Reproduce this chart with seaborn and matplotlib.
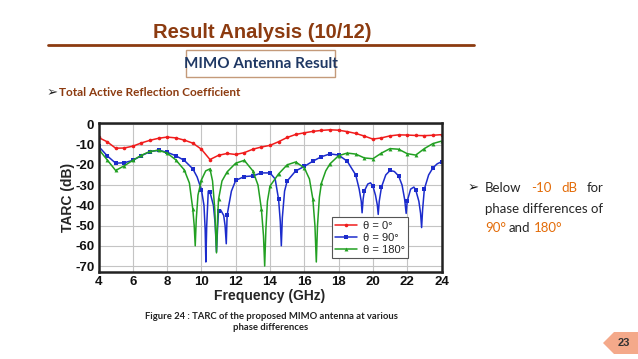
import pandas as pd
import seaborn as sns
import matplotlib.pyplot as plt
from matplotlib.patches import Rectangle, Polygon

# frequencies where the markers sit (GHz)
freq_grid = [4.0, 4.5, 5.0, 5.5, 6.0, 6.5, 7.0, 7.5, 8.0, 8.5, 9.0, 9.5, 10.0, 10.5,
             11.0, 11.5, 12.0, 12.5, 13.0, 13.5, 14.0, 14.5, 15.0, 15.5, 16.0, 16.5,
             17.0, 17.5, 18.0, 18.5, 19.0, 19.5, 20.0, 20.5, 21.0, 21.5, 22.0, 22.5,
             23.0, 23.5, 24.0]

# theta = 0 deg
tarc_0 = [-6.5, -8.6, -11.8, -11.7, -10.8, -9.2, -7.9, -6.9, -6.3, -6.7, -7.8, -9.3,
          -12.3, -17.4, -15.3, -14.4, -14.9, -14.0, -12.3, -11.2, -10.4, -8.6, -6.5,
          -5.0, -4.2, -3.5, -3.0, -2.7, -2.9, -3.6, -4.5, -5.8, -7.3, -6.7, -5.7, -5.2,
          -5.3, -5.5, -5.6, -5.4, -5.1]
extra_f_0 = []
extra_v_0 = []

# theta = 90 deg
tarc_90 = [-10.8, -15.5, -19.2, -19.0, -17.8, -15.5, -13.5, -12.8, -13.8, -15.5, -17.8,
           -22.0, -32.3, -33.5, -43.0, -45.0, -27.7, -25.8, -25.5, -24.0, -24.0, -37.0,
           -28.0, -23.0, -20.8, -18.2, -16.0, -14.6, -15.2, -18.2, -25.0, -33.0, -30.5,
           -31.0, -22.8, -25.5, -38.0, -32.5, -32.0, -21.5, -18.5]
extra_f_90 = [9.75, 10.15, 10.22, 10.26, 10.31, 10.4, 10.7, 10.8, 10.88, 10.95, 11.12,
              11.3, 11.38, 11.45, 11.6, 11.75, 14.3, 14.6, 14.66, 14.72, 14.85,
              19.2, 19.32, 19.37, 19.43, 19.7, 19.86, 20.15, 20.26, 20.31, 20.37, 20.75,
              21.25, 21.7, 21.85, 21.94, 22.2, 22.39, 22.68, 22.78, 22.84, 22.9, 23.25,
              23.75]
extra_v_90 = [-26.0, -40.0, -52.0, -68.0, -50.0, -33.0, -40.0, -49.0, -63.0, -50.0, -42.3,
              -45.0, -50.0, -59.0, -40.0, -33.0, -27.0, -48.0, -60.0, -46.0, -33.0,
              -32.0, -38.0, -43.7, -37.0, -29.5, -28.9, -35.0, -40.0, -44.5, -38.0, -25.0,
              -23.3, -30.0, -37.0, -44.0, -32.0, -31.0, -38.0, -44.0, -51.0, -42.0, -25.0,
              -19.5]

# theta = 180 deg
tarc_180 = [-12.2, -17.5, -22.8, -20.5, -17.8, -15.3, -13.4, -12.8, -14.2, -17.5, -22.5,
            -42.0, -27.5, -22.0, -37.0, -23.5, -19.2, -17.8, -23.0, -42.0, -30.5, -24.5,
            -20.0, -18.6, -21.5, -37.0, -29.0, -19.5, -15.5, -14.2, -14.7, -16.6, -17.0,
            -14.2, -12.0, -12.3, -14.5, -15.2, -12.0, -9.5, -8.3]
extra_f_180 = [9.3, 9.58, 9.64, 9.7, 9.8, 10.25, 10.65, 10.78, 10.88, 10.95, 11.2,
               13.3, 13.62, 13.69, 13.76, 13.85, 16.3, 16.62, 16.7, 16.77, 16.88, 17.25]
extra_v_180 = [-29.0, -50.0, -60.0, -47.0, -35.0, -23.0, -28.0, -42.0, -63.5, -45.0, -28.0,
               -30.0, -55.0, -70.0, -52.0, -38.0, -27.0, -50.0, -68.0, -50.0, -36.0, -23.0]

x_ticks = [4, 6, 8, 10, 12, 14, 16, 18, 20, 22, 24]
y_ticks = [0, -10, -20, -30, -40, -50, -60, -70]

W, H = 638, 359


def fx(x):
    return x / W


def fy(y):
    return 1 - y / H


def build(vals, ef, ev):
    df = pd.DataFrame({"freq": freq_grid + ef, "tarc": vals + ev,
                       "grid": [True] * len(freq_grid) + [False] * len(ef)})
    df = df.sort_values("freq").reset_index(drop=True)
    return df, list(df.index[df["grid"]])


sns.set_theme(style="whitegrid")
plt.rcParams['font.family'] = ['Liberation Sans', 'DejaVu Sans']
plt.rcParams['axes.unicode_minus'] = False

fig = plt.figure(figsize=(6.38, 3.59), dpi=100)
ax = fig.add_axes([fx(98.5), fy(271.7), 343 / W, (271.7 - 122.7) / H])

series = [
    (tarc_0, extra_f_0, extra_v_0, "#f01c1c", "o", 2.6, "θ = 0°"),
    (tarc_90, extra_f_90, extra_v_90, "#1c2ccc", "s", 2.6, "θ = 90°"),
    (tarc_180, extra_f_180, extra_v_180, "#22a022", "^", 2.8, "θ = 180°"),
]
for vals, ef, ev, col, mk, ms, lab in series:
    df, idx = build(vals, ef, ev)
    sns.lineplot(data=df, x="freq", y="tarc", ax=ax, color=col, marker=mk,
                 markersize=ms, markeredgewidth=0, markevery=idx, linewidth=1.1,
                 label=lab, estimator=None, sort=False)

ax.set_xlim(4, 24)
ax.set_ylim(-72.8, 0.8)
ax.set_xticks(x_ticks)
ax.set_yticks(y_ticks)
ax.grid(color="#c4c4c4", linewidth=0.8)
for s in ax.spines.values():
    s.set_color("#222222")
    s.set_linewidth(1.8)
ax.tick_params(length=0, pad=3, labelsize=9.5, colors="#111111")
for t in ax.get_xticklabels() + ax.get_yticklabels():
    t.set_fontweight("bold")
ax.set_xlabel("Frequency (GHz)", fontsize=10, fontweight="bold", labelpad=1)
ax.set_ylabel("TARC (dB)", fontsize=10, fontweight="bold", labelpad=0)

leg = ax.legend(loc="lower left", bbox_to_anchor=(0.68, 0.09), fontsize=8,
                frameon=True, fancybox=False, edgecolor="#555555", framealpha=1,
                handlelength=2.0, borderpad=0.3, labelspacing=0.2, handletextpad=0.5,
                borderaxespad=0)
leg.get_frame().set_linewidth(0.8)

# slide decorations
fig.text(fx(262), fy(33), "Result Analysis (10/12)", ha="center", va="center",
         fontsize=14.5, fontweight="bold", color="#8c3b10")
fig.add_artist(plt.Line2D([fx(48), fx(474)], [fy(45), fy(45)], color="#8c3b10",
                          linewidth=2))
fig.add_artist(Rectangle((fx(186), fy(77)), fx(149), 27 / H, fill=False,
                         edgecolor="#c49a7a", linewidth=1))
fig.text(fx(261), fy(64), "MIMO Antenna Result", ha="center", va="center",
         fontsize=11, fontweight="bold", color="#1f3864", family="Lato")
fig.text(fx(47), fy(93), "➢", ha="left", va="center", fontsize=9.5,
         color="#222222", family="DejaVu Sans")
fig.text(fx(59), fy(93), "Total Active Reflection Coefficient", ha="left",
         va="center", fontsize=8.5, fontweight="bold", color="#8c3b10", family="Lato")

orange = "#e36c09"
fs = 9.5
fig.text(fx(468), fy(188), "➢", ha="left", va="center", fontsize=9.5,
         color="#111111", family="DejaVu Sans")
fig.text(fx(485), fy(188), "Below", ha="left", va="center", fontsize=fs, family="Lato")
fig.text(fx(531), fy(188), "-10", ha="left", va="center", fontsize=fs,
         color=orange, family="Lato")
fig.text(fx(561), fy(188), "dB", ha="left", va="center", fontsize=fs,
         color=orange, family="Lato")
fig.text(fx(603), fy(188), "for", ha="right", va="center", fontsize=fs, family="Lato")
fig.text(fx(485), fy(209), "phase differences of", ha="left", va="center",
         fontsize=fs, family="Lato")
fig.text(fx(485), fy(228), "90°", ha="left", va="center", fontsize=fs,
         color=orange, family="Lato")
fig.text(fx(509), fy(228), "and", ha="left", va="center", fontsize=fs, family="Lato")
fig.text(fx(534), fy(228), "180°", ha="left", va="center", fontsize=fs,
         color=orange, family="Lato")

fig.text(fx(271), fy(322), "Figure 24 : TARC of the proposed MIMO antenna at various\nphase differences",
         ha="center", va="center", fontsize=6.8, fontweight="bold", color="#222222",
         family="Lato", linespacing=1.3)

fig.add_artist(Polygon([(fx(603), fy(343)), (fx(614), fy(332)), (fx(638), fy(332)),
                        (fx(638), fy(354)), (fx(614), fy(354))], closed=True,
                       facecolor="#f4a98a", edgecolor="none"))
fig.text(fx(624), fy(343), "23", ha="center", va="center", fontsize=8,
         fontweight="bold", color="#333333")

fig.savefig("out.png", dpi=100)
